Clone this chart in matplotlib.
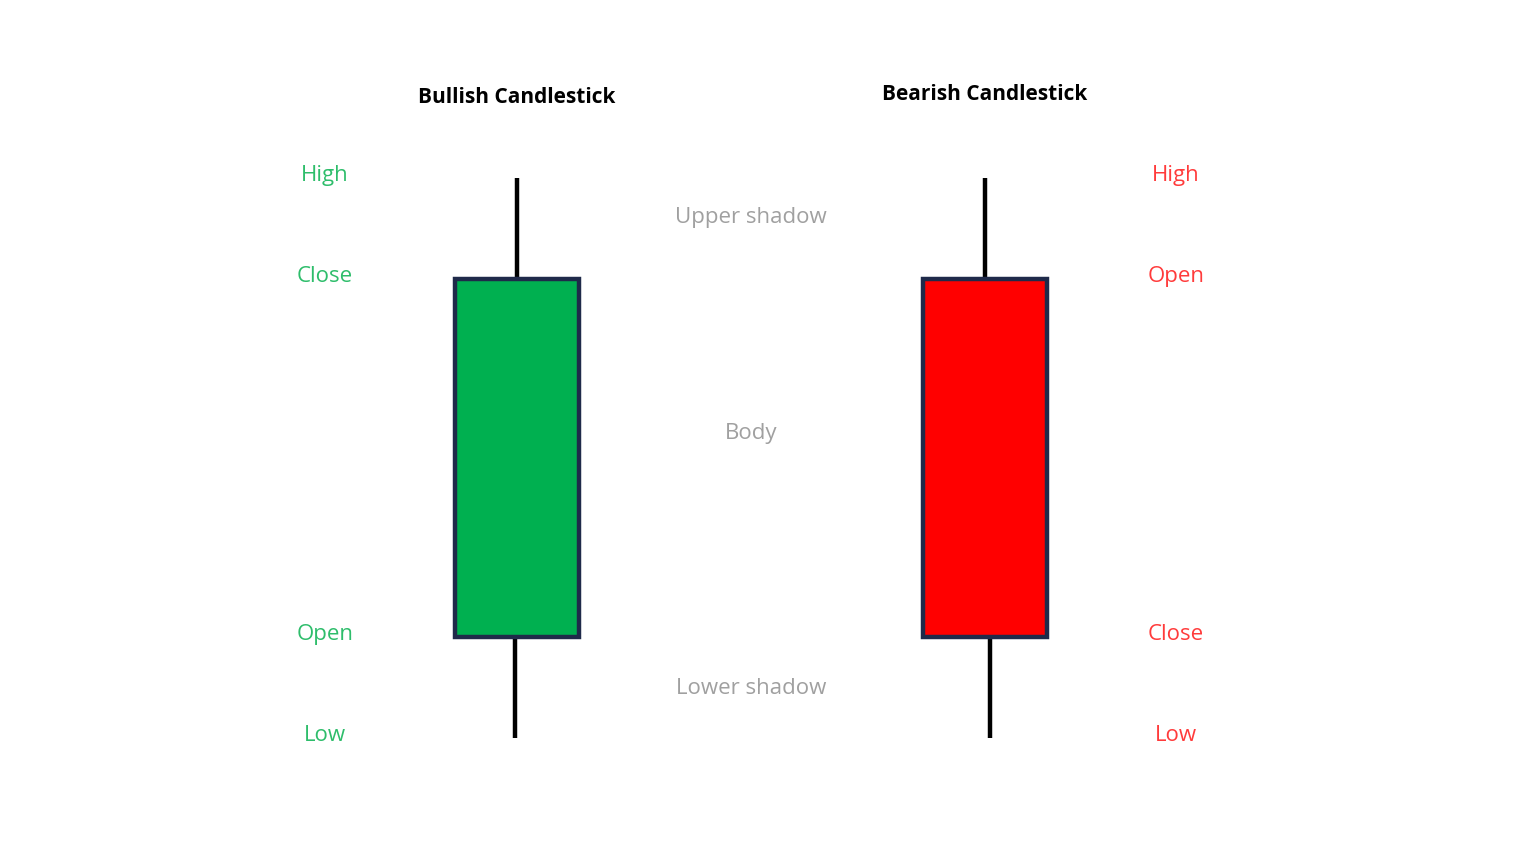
import matplotlib.pyplot as plt
from matplotlib.patches import Rectangle

# price levels (arbitrary units)
high = 10.0
low = 0.0
body_top = 8.2
body_bottom = 1.8

bull_labels = ["High", "Close", "Open", "Low"]
bear_labels = ["High", "Open", "Close", "Low"]
levels = [high, body_top, body_bottom, low]

GREEN = "#00B050"
RED = "#FF0000"
EDGE = "#1F2A4A"

fig = plt.figure(figsize=(15.36, 8.64), dpi=100)
ax = fig.add_axes([0, 0, 1, 1])
ax.set_xlim(0, 1536)
ax.set_ylim(-2.25, 13.18)
ax.axis("off")

plt.rcParams["font.family"] = ["Open Sans", "DejaVu Sans"]


def candle(x, color, title, title_y):
    # shadows
    ax.plot([x, x], [body_top, high], color="black", lw=3.2, solid_capstyle="butt", zorder=1)
    ax.plot([x - 2 if color == GREEN else x + 5] * 2, [low, body_bottom], color="black",
            lw=3.2, solid_capstyle="butt", zorder=1)
    w = 124
    ax.add_patch(Rectangle((x - w / 2, body_bottom), w, body_top - body_bottom,
                           facecolor=color, edgecolor=EDGE, lw=3.2, zorder=2))
    ax.text(x, title_y, title, ha="center", va="center", fontsize=15,
            fontweight="bold", color="black")


candle(517, GREEN, "Bullish Candlestick", 11.43)
candle(985, RED, "Bearish Candlestick", 11.5)

for lab, lv in zip(bull_labels, levels):
    ax.text(325, lv + 0.05, lab, ha="center", va="center", fontsize=16, color="#2EBD6B")
for lab, lv in zip(bear_labels, levels):
    ax.text(1176, lv + 0.05, lab, ha="center", va="center", fontsize=16, color="#FF3B3B")

grey = "#A0A0A0"
ax.text(751, 9.3, "Upper shadow", ha="center", va="center", fontsize=16, color=grey)
ax.text(751, 5.43, "Body", ha="center", va="center", fontsize=16, color=grey)
ax.text(751, 0.88, "Lower shadow", ha="center", va="center", fontsize=16, color=grey)

fig.savefig("out.png", dpi=100, facecolor="white")
